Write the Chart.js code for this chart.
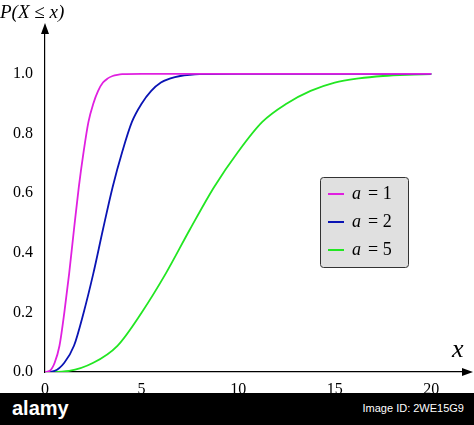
<!DOCTYPE html>
<html><head><meta charset="utf-8">
<script src="https://cdn.jsdelivr.net/npm/chart.js@4/dist/chart.umd.min.js"></script>
<style>body{margin:0;background:#fff}#w{position:relative;width:474px;height:425px}
#bar{position:absolute;left:0;top:393px;width:474px;height:32px;background:#000;color:#fff;font:bold 20px "Liberation Sans";}
</style></head><body><div id="w"><canvas id="c" width="474" height="393" style="width:474px;height:393px"></canvas>
<div id="bar"><span style="position:absolute;left:12px;top:4px">alamy</span><span style="position:absolute;right:10px;top:9px;font-size:11px;font-weight:normal">Image ID: 2WE15G9</span></div></div>
<script>
const xTicks=[0,5,10,15,20];
const yTicks=[0,0.2,0.4,0.6,0.8,1.0];
const labels=["a = 1","a = 2","a = 5"];
const colors=["#e020e0","#0a14b4","#22e622"];
const xs1=[0,0.25,0.5,0.75,1,1.25,1.5,1.75,2,2.25,2.5,2.75,3,3.25,3.5,3.75,4,5,20];
const xs2=[0,0.5,1,1.5,2,2.5,3,3.5,4,4.5,5,5.5,6,6.5,7,7.5,8,10,20];
const xs5=[0,1.25,2.5,3.75,5,6.25,7.5,8.75,10,11.25,12.5,13.75,15,16.25,17.5,18.75,20];
const cdf=[0,0.004,0.031,0.088,0.199,0.330,0.478,0.620,0.739,0.839,0.900,0.943,0.971,0.985,0.993,0.997,0.999,1.0,1.0];
const cdf5=[0,0.004,0.031,0.088,0.199,0.330,0.478,0.620,0.739,0.839,0.900,0.943,0.971,0.985,0.993,0.997,0.999];
const mk=(xs,ys)=>xs.map((x,i)=>({x:x,y:ys[i]}));
const F='"Liberation Serif"';
const deco={id:'deco',afterDraw(ch){const c=ch.ctx,a=ch.chartArea,xs=ch.scales.x,ys=ch.scales.y;
c.save();c.fillStyle='#000';
const ox=xs.getPixelForValue(0),oy=ys.getPixelForValue(0);
c.beginPath();c.moveTo(a.right+5,oy);c.lineTo(a.right-6,oy-4);c.lineTo(a.right-6,oy+4);c.fill();
c.beginPath();c.moveTo(ox,a.top-5);c.lineTo(ox-4,a.top+6);c.lineTo(ox+4,a.top+6);c.fill();
c.font='italic 26px '+F;c.textAlign='left';c.textBaseline='alphabetic';c.fillText('x',452,357);
c.font='italic 19px '+F;c.fillText('P(X ≤ x)',0,18);
// legend
const bx=320,by=177,bw=88,bh=90;c.fillStyle='#e0e0e0';c.strokeStyle='#333';c.lineWidth=1;
c.beginPath();c.roundRect(bx+0.5,by+0.5,bw,bh,3);c.fill();c.stroke();
labels.forEach((l,i)=>{const yy=by+17+i*28;c.strokeStyle=colors[i];c.lineWidth=2;c.beginPath();c.moveTo(bx+8,yy);c.lineTo(bx+24,yy);c.stroke();
c.fillStyle='#000';c.font='italic 18px '+F;c.textBaseline='middle';c.fillText('a',bx+32,yy);c.font='18px '+F;c.fillText('= '+l.split('= ')[1],bx+48,yy);});
c.restore();}};
new Chart(document.getElementById('c'),{type:'scatter',
data:{datasets:[mk(xs1,cdf),mk(xs2,cdf),mk(xs5,cdf5)].map((d,i)=>({data:d,label:labels[i],showLine:true,borderColor:colors[i],borderWidth:1.8,pointRadius:0,tension:0.4,cubicInterpolationMode:'monotone'}))},
options:{responsive:false,animation:false,layout:{padding:{top:28,right:6,left:0,bottom:0}},
plugins:{legend:{display:false},tooltip:{enabled:false}},
scales:{x:{type:'linear',min:0,max:21.9,afterBuildTicks:s=>{s.ticks=xTicks.map(v=>({value:v}))},afterFit:s=>{s.height=21},
grid:{display:false},border:{color:'#000',width:1.2},ticks:{color:'#000',font:{family:F,size:16},padding:0,maxRotation:0}},
y:{min:0,max:1.154,afterBuildTicks:s=>{s.ticks=yTicks.map(v=>({value:v}))},afterFit:s=>{s.width=45},
grid:{display:false},border:{color:'#000',width:1.2},ticks:{color:'#000',font:{family:F,size:16},padding:4,callback:v=>v.toFixed(1)}}}},
plugins:[deco]});
</script></body></html>
